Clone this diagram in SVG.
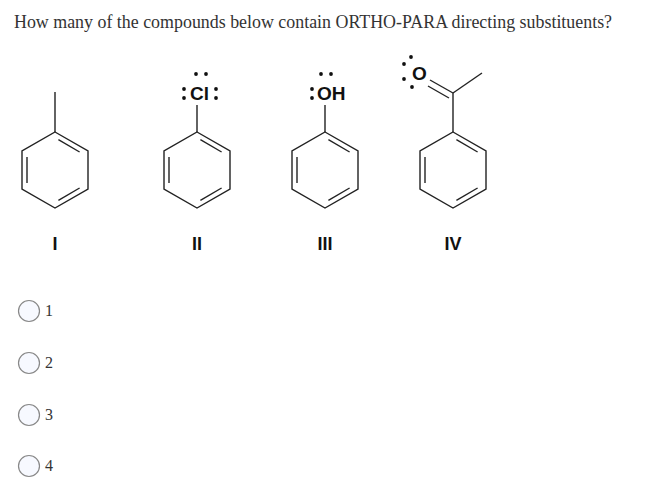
<svg xmlns="http://www.w3.org/2000/svg" xmlns:xlink="http://www.w3.org/1999/xlink" width="668" height="492" viewBox="0 0 668 492">
<style>
.b{stroke:#222;stroke-width:1.4;fill:none}
.at{font-family:"Liberation Sans",Arial,sans-serif;font-size:19px;font-weight:bold;fill:#111}
.lb{font-family:"Liberation Sans",Arial,sans-serif;font-size:18px;font-weight:bold;fill:#111;text-anchor:middle}
.q{font-family:"Liberation Serif","Times New Roman",serif;font-size:17.9px;fill:#333}
.o{font-family:"Liberation Serif","Times New Roman",serif;font-size:16px;fill:#333}
.r{fill:#f7f9ff;stroke:#888;stroke-width:1.2}
.d{fill:#111}
</style>
<defs>
<g id="ring" class="b">
<polygon points="0,-38 33,-19 33,19 0,38 -33,19 -33,-19"/>
<line x1="3.4" y1="-30.3" x2="24.6" y2="-18"/>
<line x1="24.6" y1="18" x2="3.4" y2="30.3"/>
<line x1="-28" y1="-13" x2="-28" y2="13"/>
</g>
</defs>
<rect width="668" height="492" fill="#fff"/>
<text class="q" x="14" y="28">How many of the compounds below contain ORTHO-PARA directing substituents?</text>
<g id="c1">
<use xlink:href="#ring" x="55" y="170"/>
<line class="b" x1="55" y1="132" x2="55" y2="92"/>
<text class="lb" x="55" y="250">I</text>
</g>
<g id="c2">
<use xlink:href="#ring" x="197" y="170"/>
<line class="b" x1="197" y1="132" x2="197" y2="105"/>
<text class="at" x="190" y="100">Cl</text>
<circle class="d" cx="196" cy="74" r="1.9"/><circle class="d" cx="206" cy="74" r="1.9"/>
<circle class="d" cx="184" cy="89" r="1.9"/><circle class="d" cx="184" cy="98" r="1.9"/>
<circle class="d" cx="216" cy="89" r="1.9"/><circle class="d" cx="216" cy="98" r="1.9"/>
<text class="lb" x="197" y="250">II</text>
</g>
<g id="c3">
<use xlink:href="#ring" x="325" y="170"/>
<line class="b" x1="325" y1="132" x2="325" y2="105"/>
<text class="at" x="317" y="100">OH</text>
<circle class="d" cx="321" cy="74" r="1.9"/><circle class="d" cx="331" cy="74" r="1.9"/>
<circle class="d" cx="312" cy="89" r="1.9"/><circle class="d" cx="312" cy="98" r="1.9"/>
<text class="lb" x="325" y="250">III</text>
</g>
<g id="c4">
<use xlink:href="#ring" x="453" y="170"/>
<line class="b" x1="453" y1="132" x2="453" y2="93"/>
<line class="b" x1="453" y1="93" x2="482" y2="73"/>
<line class="b" x1="453" y1="93" x2="430" y2="80"/>
<line class="b" x1="449" y1="98" x2="428" y2="86"/>
<text class="at" x="412" y="80">O</text>
<circle class="d" cx="411" cy="57" r="1.9"/><circle class="d" cx="404" cy="64" r="1.9"/>
<circle class="d" cx="404" cy="79" r="1.9"/><circle class="d" cx="412" cy="87" r="1.9"/>
<text class="lb" x="453" y="250">IV</text>
</g>
<g id="options">
<circle class="r" cx="29" cy="311" r="10.5"/><text class="o" x="45" y="316">1</text>
<circle class="r" cx="29" cy="363" r="10.5"/><text class="o" x="45" y="368">2</text>
<circle class="r" cx="29" cy="415" r="10.5"/><text class="o" x="45" y="420">3</text>
<circle class="r" cx="29" cy="466" r="10.5"/><text class="o" x="45" y="471">4</text>
</g>
</svg>
